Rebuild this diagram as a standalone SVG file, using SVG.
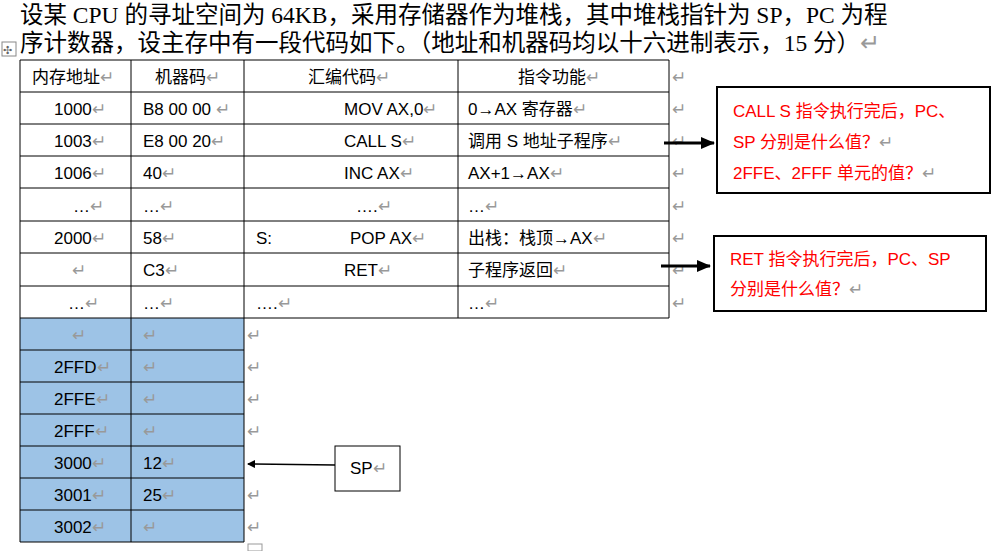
<svg xmlns="http://www.w3.org/2000/svg" width="996" height="551" viewBox="0 0 996 551">
<style>
.t{font-family:"Liberation Serif","Noto Sans CJK SC",serif;font-size:23.5px;fill:#000}
.c{font-family:"Liberation Sans","Noto Sans CJK SC",sans-serif;font-size:17px;fill:#000}
.r{font-family:"Liberation Sans","Noto Sans CJK SC",sans-serif;font-size:17px;fill:#f00}
.m{fill:#999}
.g line{stroke:#000;stroke-width:1}
</style>
<defs><marker id="a" markerWidth="8" markerHeight="8" refX="7" refY="4" orient="auto" markerUnits="userSpaceOnUse" viewBox="0 0 8 8"><path d="M0,0L8,4L0,8z" fill="#000"/></marker>
<marker id="b" markerWidth="14" markerHeight="12" refX="13" refY="6" orient="auto" markerUnits="userSpaceOnUse" viewBox="0 0 14 12"><path d="M0,0L14,6L0,12z" fill="#000"/></marker></defs>
<text class="t" x="20" y="23">设某 CPU 的寻址空间为 64KB，采用存储器作为堆栈，其中堆栈指针为 SP，PC 为程</text>
<text class="t" x="20" y="51">序计数器，设主存中有一段代码如下。（地址和机器码均以十六进制表示，15 分）<tspan class="m">↵</tspan></text>
<rect x="2" y="42" width="14" height="14" fill="none" stroke="#888"/>
<text x="3" y="54" font-family="DejaVu Sans" font-size="11" fill="#666">✣</text>
<rect x="20" y="318" width="224" height="224" fill="#9dc3e6"/>
<g id="table" class="g">
<line x1="20" y1="60" x2="669" y2="60"/><line x1="20" y1="92" x2="669" y2="92"/><line x1="20" y1="124" x2="669" y2="124"/><line x1="20" y1="156" x2="669" y2="156"/><line x1="20" y1="188" x2="669" y2="188"/><line x1="20" y1="221" x2="669" y2="221"/><line x1="20" y1="253" x2="669" y2="253"/><line x1="20" y1="286" x2="669" y2="286"/><line x1="20" y1="318" x2="669" y2="318"/>
<line x1="20" y1="350" x2="244" y2="350"/><line x1="20" y1="382" x2="244" y2="382"/><line x1="20" y1="414" x2="244" y2="414"/><line x1="20" y1="446" x2="244" y2="446"/><line x1="20" y1="478" x2="244" y2="478"/><line x1="20" y1="510" x2="244" y2="510"/><line x1="20" y1="542" x2="244" y2="542"/>
<line x1="20" y1="60" x2="20" y2="542"/><line x1="131" y1="60" x2="131" y2="542"/><line x1="244" y1="60" x2="244" y2="542"/><line x1="458" y1="60" x2="458" y2="318"/><line x1="669" y1="60" x2="669" y2="318"/>
</g>
<g id="cells" class="c">
<text x="32" y="83">内存地址<tspan class="m">↵</tspan></text><text x="155" y="83">机器码<tspan class="m">↵</tspan></text><text x="308" y="83">汇编代码<tspan class="m">↵</tspan></text><text x="518" y="83">指令功能<tspan class="m">↵</tspan></text>
<text x="54" y="115">1000<tspan class="m">↵</tspan></text><text x="143" y="115">B8 00 00 <tspan class="m">↵</tspan></text><text x="344" y="115">MOV AX,0<tspan class="m">↵</tspan></text><text x="468" y="115">0→AX 寄存器<tspan class="m">↵</tspan></text>
<text x="54" y="147">1003<tspan class="m">↵</tspan></text><text x="143" y="147">E8 00 20<tspan class="m">↵</tspan></text><text x="344" y="147">CALL S<tspan class="m">↵</tspan></text><text x="468" y="147">调用 S 地址子程序<tspan class="m">↵</tspan></text>
<text x="54" y="179">1006<tspan class="m">↵</tspan></text><text x="143" y="179">40<tspan class="m">↵</tspan></text><text x="344" y="179">INC AX<tspan class="m">↵</tspan></text><text x="468" y="179">AX+1→AX<tspan class="m">↵</tspan></text>
<text x="73" y="212">…<tspan class="m">↵</tspan></text><text x="143" y="212">…<tspan class="m">↵</tspan></text><text x="356" y="212">….<tspan class="m">↵</tspan></text><text x="468" y="212">…<tspan class="m">↵</tspan></text>
<text x="54" y="244">2000<tspan class="m">↵</tspan></text><text x="143" y="244">58<tspan class="m">↵</tspan></text><text x="256" y="244">S:</text><text x="350" y="244">POP AX<tspan class="m">↵</tspan></text><text x="468" y="244">出栈：栈顶→AX<tspan class="m">↵</tspan></text>
<text x="72" y="276" class="m">↵</text><text x="143" y="276">C3<tspan class="m">↵</tspan></text><text x="344" y="276">RET<tspan class="m">↵</tspan></text><text x="468" y="276">子程序返回<tspan class="m">↵</tspan></text>
<text x="68" y="309">…<tspan class="m">↵</tspan></text><text x="143" y="309">…<tspan class="m">↵</tspan></text><text x="256" y="309">….<tspan class="m">↵</tspan></text><text x="468" y="309">…<tspan class="m">↵</tspan></text>
<text x="72" y="341" class="m">↵</text><text x="143" y="341" class="m">↵</text>
<text x="54" y="373">2FFD<tspan class="m">↵</tspan></text><text x="143" y="373" class="m">↵</text>
<text x="54" y="405">2FFE<tspan class="m">↵</tspan></text><text x="143" y="405" class="m">↵</text>
<text x="54" y="437">2FFF<tspan class="m">↵</tspan></text><text x="143" y="437" class="m">↵</text>
<text x="54" y="469">3000<tspan class="m">↵</tspan></text><text x="143" y="469">12<tspan class="m">↵</tspan></text>
<text x="54" y="501">3001<tspan class="m">↵</tspan></text><text x="143" y="501">25<tspan class="m">↵</tspan></text>
<text x="54" y="533">3002<tspan class="m">↵</tspan></text><text x="143" y="533" class="m">↵</text>
<text class="m" x="672" y="83">↵</text><text class="m" x="672" y="115">↵</text><text class="m" x="672" y="147">↵</text><text class="m" x="672" y="179">↵</text><text class="m" x="672" y="212">↵</text><text class="m" x="672" y="244">↵</text><text class="m" x="672" y="276">↵</text><text class="m" x="672" y="309">↵</text>
<text class="m" x="247" y="341">↵</text><text class="m" x="247" y="373">↵</text><text class="m" x="247" y="405">↵</text><text class="m" x="247" y="437">↵</text><text class="m" x="247" y="501">↵</text><text class="m" x="247" y="533">↵</text>
</g>
<rect x="248" y="544" width="14" height="7" fill="none" stroke="#999"/>
<g id="q1"><rect x="717" y="87" width="273" height="106" fill="#fff" stroke="#000" stroke-width="2"/>
<text class="r" x="733" y="117">CALL S  指令执行完后，PC、</text><text class="r" x="733" y="148">SP 分别是什么值？<tspan class="m">↵</tspan></text><text class="r" x="733" y="179">2FFE、2FFF 单元的值？<tspan class="m">↵</tspan></text></g>
<g id="q2"><rect x="714" y="236" width="272" height="75" fill="#fff" stroke="#000" stroke-width="2"/>
<text class="r" x="730" y="265">RET 指令执行完后，PC、SP</text><text class="r" x="730" y="295">分别是什么值？<tspan class="m">↵</tspan></text></g>
<g id="sp"><rect x="335" y="446" width="65" height="45" fill="#fff" stroke="#000"/><text class="c" x="350" y="474">SP<tspan class="m">↵</tspan></text></g>
<g id="connectors">
<line x1="664" y1="143" x2="714" y2="143" stroke="#000" stroke-width="3" marker-end="url(#b)"/>
<line x1="661" y1="266" x2="710" y2="266" stroke="#000" stroke-width="3" marker-end="url(#b)"/>
<line x1="335" y1="465" x2="248" y2="464" stroke="#000" stroke-width="1.5" marker-end="url(#a)"/>
</g>
</svg>
